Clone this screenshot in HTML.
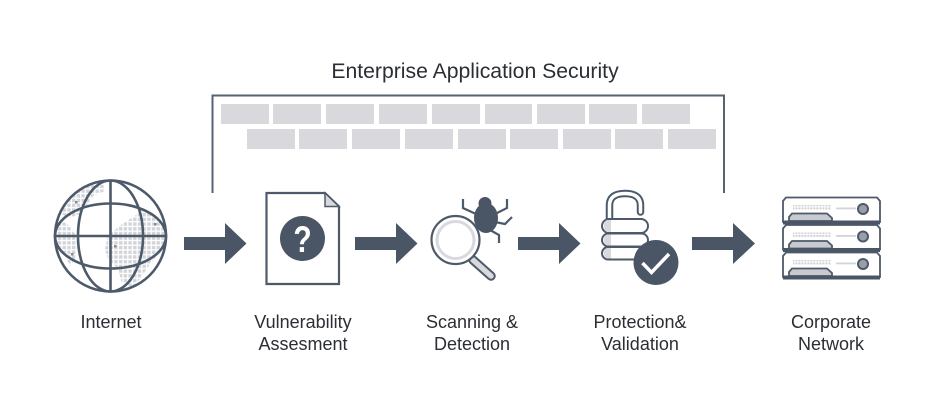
<!DOCTYPE html>
<html><head><meta charset="utf-8"><style>
html,body{margin:0;padding:0;background:#fff;width:950px;height:409px;overflow:hidden}
svg{display:block}
text{font-family:"Liberation Sans",Arial,sans-serif;fill:#2b2e33;text-anchor:middle}
</style></head><body>
<svg width="950" height="409" viewBox="0 0 950 409" xmlns="http://www.w3.org/2000/svg">
<defs>
<pattern id="dots" x="1" y="1" width="4.700" height="4.700" patternUnits="userSpaceOnUse"><rect x="0.500" y="0.500" width="3.400" height="3.400" fill="#d3d4d9"/></pattern>
<pattern id="dots2" width="3" height="3" patternUnits="userSpaceOnUse"><rect x="0.400" y="0.400" width="2" height="2" fill="#d0d1d6"/></pattern>
</defs>
<rect width="950" height="409" fill="#fff"/>
<text x="475" y="78" font-size="21.200">Enterprise Application Security</text>
<path d="M212.500 193V95.500H724V193" fill="none" stroke="#566173" stroke-width="2"/>
<g fill="#d9d9dd">
<rect x="221" y="104" width="48" height="20"/><rect x="273" y="104" width="48" height="20"/><rect x="326" y="104" width="48" height="20"/><rect x="379" y="104" width="48" height="20"/><rect x="432" y="104" width="48" height="20"/><rect x="485" y="104" width="47" height="20"/><rect x="537" y="104" width="48" height="20"/><rect x="589" y="104" width="48" height="20"/><rect x="642" y="104" width="48" height="20"/>
<rect x="247" y="129" width="48" height="20"/><rect x="299" y="129" width="48" height="20"/><rect x="352" y="129" width="48" height="20"/><rect x="405" y="129" width="48" height="20"/><rect x="458" y="129" width="48" height="20"/><rect x="510" y="129" width="48" height="20"/><rect x="563" y="129" width="48" height="20"/><rect x="615" y="129" width="48" height="20"/><rect x="668" y="129" width="48" height="20"/>
</g>

<!-- globe -->
<g>
<path d="M60 213L70 196 83 186 105 184V191L93 196 88 204 80 214 70 218 65 216Z" fill="url(#dots)"/>
<path d="M62 221L70 226 75 234 78 243 75 259 70 266 65 256 57 241 55 236Z" fill="url(#dots)"/>
<path d="M105 249L108 236 122 224 135 216 142 208 153 213 165 231 163 248 150 264 142 276 133 288 122 283 118 269 108 259Z" fill="url(#dots)"/>
<g fill="none" stroke="#4d5a6a" stroke-width="2.600">
<circle cx="110.500" cy="236" r="55.500"/>
<ellipse cx="110.500" cy="236" rx="32.500" ry="55.500"/>
<ellipse cx="110.500" cy="236" rx="55.500" ry="32.500"/>
<path d="M55 236H166M110.500 180.500V291.500"/>
</g>
<g fill="#858a94"><rect x="75" y="201" width="2.500" height="2.500"/><rect x="154" y="223" width="2.500" height="2.500"/><rect x="114" y="245" width="2.500" height="2.500"/><rect x="71" y="253" width="2.500" height="2.500"/></g>
</g>

<!-- arrows -->
<g fill="#4a5565">
<path d="M184 237H225V223L246.500 243.500 225 264V250H184Z"/>
<path d="M355 237H396V223L417.500 243.500 396 264V250H355Z"/>
<path d="M518 237H559V223L580.500 243.500 559 264V250H518Z"/>
<path d="M692 237H733V223L755 243.500 733 264V250H692Z"/>
</g>

<!-- document -->
<path d="M266.500 193H325L339 206.500V284H266.500Z" fill="#fff" stroke="#4d5a6a" stroke-width="2.200"/>
<path d="M325 193V206.500H339Z" fill="#d9d9dd" stroke="#4d5a6a" stroke-width="1.500"/>
<circle cx="302.500" cy="238.500" r="22.500" fill="#4a5565"/>
<text transform="translate(302.500,252) scale(1,1.220)" font-size="30" font-weight="bold" style="fill:#fff">?</text>

<!-- bug + magnifier -->
<g stroke="#4d5a6a" stroke-width="2.200" fill="none">
<path d="M463 199V208L476 214"/>
<path d="M507 199V208L495 214"/>
<path d="M512 217L505 224 495 222"/>
<path d="M499 243V235L490 230"/>
</g>
<ellipse cx="486" cy="218" rx="12" ry="15" fill="#4a5565"/>
<circle cx="485" cy="203.500" r="6.500" fill="#4a5565"/>
<path d="M473 260L491 276" stroke="#4d5a6a" stroke-width="9.500" stroke-linecap="round"/>
<path d="M473 260L491 276" stroke="#d9d9dd" stroke-width="5.500" stroke-linecap="round"/>
<circle cx="455.500" cy="240" r="24" fill="#fff" stroke="#4d5a6a" stroke-width="2.200"/>
<circle cx="455.500" cy="240" r="18.500" fill="#fff" stroke="#d9d9dd" stroke-width="3"/>

<!-- lock -->
<path d="M609.500 220V205.500C609.500 196.500 616 193.500 625 193.500S640.500 196.500 640.500 205.500V212" fill="none" stroke="#4d5a6a" stroke-width="7.500" stroke-linecap="round"/>
<path d="M609.500 220V205.500C609.500 196.500 616 193.500 625 193.500S640.500 196.500 640.500 205.500V212" fill="none" stroke="#fff" stroke-width="3.500" stroke-linecap="round"/>
<g fill="#fff" stroke="#4d5a6a" stroke-width="2">
<rect x="602" y="219" width="46" height="14" rx="7"/>
<rect x="602" y="233.500" width="46" height="13" rx="6.500"/>
<rect x="602" y="247" width="44" height="12.500" rx="6.200"/>
</g>
<g fill="#d9d9dd"><path d="M604 226q0-6 4-6h3v12h-3q-4 0-4-6z"/><path d="M604 240q0-5.500 4-5.500h3v11h-3q-4 0-4-5.500z"/><path d="M604 253q0-5 4-5h3v10.500h-3q-4 0-4-5.500z"/></g>
<circle cx="656" cy="262.500" r="22.500" fill="#4a5565"/>
<path d="M642.500 263L651.500 272.500 669 254" fill="none" stroke="#fff" stroke-width="3.500"/>

<!-- server -->
<g id="srv">
<path d="M783 222V201L786 197.500H877L880 201V222Z" fill="#fff" stroke="#4d5a6a" stroke-width="1.800"/>
<rect x="793" y="205" width="38" height="5" fill="url(#dots2)"/>
<path d="M789 221V217L792 213.500H827L832 218V221Z" fill="#c9cacf" stroke="#4d5a6a" stroke-width="1.800"/>
<rect x="836" y="207.500" width="20" height="1.800" fill="#d3d4d9"/>
<circle cx="863" cy="209" r="5" fill="#9a9ea6" stroke="#4d5a6a" stroke-width="2"/>
<rect x="783" y="220.500" width="97" height="4" fill="#4a5565"/>
</g>
<use href="#srv" y="27.500"/>
<use href="#srv" y="55"/>

<g font-size="18">
<text x="111" y="328">Internet</text>
<text x="303" y="328">Vulnerability</text>
<text x="303" y="350">Assesment</text>
<text x="472" y="328">Scanning &amp;</text>
<text x="472" y="350">Detection</text>
<text x="640" y="328">Protection&amp;</text>
<text x="640" y="350">Validation</text>
<text x="831" y="328">Corporate</text>
<text x="831" y="350">Network</text>
</g>
</svg>
</body></html>
